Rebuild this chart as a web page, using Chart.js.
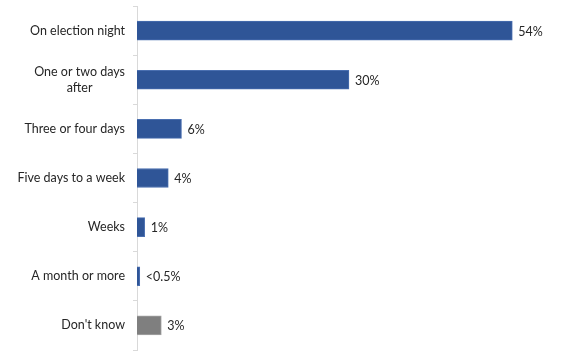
<!DOCTYPE html>
<html lang="en">
<head>
  <meta charset="UTF-8">
  <title>Election results timing</title>
  <script src="https://cdn.jsdelivr.net/npm/chart.js"></script>
  <style>
    body { margin: 0; background: #ffffff; }
    canvas { display: block; }
  </style>
</head>
<body>
  <canvas id="grafico" width="570" height="356"></canvas>

  <script>
    const categorias = [
      ['On election night'],
      ['One or two days', 'after'],
      ['Three or four days'],
      ['Five days to a week'],
      ['Weeks'],
      ['A month or more'],
      ["Don't know"]
    ];
    const valores = [54, 30.5, 6.4, 4.5, 1.1, 0.4, 3.5];
    const rotulos = ['54%', '30%', '6%', '4%', '1%', '<0.5%', '3%'];
    const coresBarra = ['#2F5597', '#2F5597', '#2F5597', '#2F5597', '#2F5597', '#2F5597', '#7F7F7F'];
    const coresBorda = ['#4A6FB0', '#4A6FB0', '#4A6FB0', '#4A6FB0', '#4A6FB0', '#4A6FB0', '#A5A5A5'];

    const fonte = '12.5px Lato';
    const corTexto = '#262626';

    // category labels (centered multi-line like the original) + value labels
    const rotulosPlugin = {
      id: 'rotulos',
      afterDatasetsDraw(chart) {
        const ctx = chart.ctx;
        const y = chart.scales.y;
        ctx.save();
        ctx.font = fonte;
        ctx.fillStyle = corTexto;
        ctx.textBaseline = 'middle';

        categorias.forEach((linhas, i) => {
          const cy = y.getPixelForTick(i);
          const maxW = Math.max(...linhas.map(l => ctx.measureText(l).width));
          const cx = chart.chartArea.left - 12 - maxW / 2;
          const alt = 16;
          ctx.textAlign = 'center';
          linhas.forEach((l, j) => {
            ctx.fillText(l, cx, cy + (j - (linhas.length - 1) / 2) * alt);
          });
        });

        const meta = chart.getDatasetMeta(0);
        ctx.textAlign = 'left';
        meta.data.forEach((bar, i) => {
          ctx.fillText(rotulos[i], bar.x + 6, bar.y + 1);
        });
        ctx.restore();
      }
    };

    new Chart(document.getElementById('grafico'), {
      type: 'bar',
      data: {
        labels: categorias.map(c => c.join(' ')),
        datasets: [{
          data: valores,
          backgroundColor: coresBarra,
          borderColor: coresBorda,
          borderWidth: 1,
          barThickness: 19
        }]
      },
      options: {
        indexAxis: 'y',
        responsive: false,
        animation: false,
        layout: { padding: { top: 6, bottom: 6, right: 16, left: 0 } },
        plugins: {
          legend: { display: false },
          tooltip: { enabled: false }
        },
        scales: {
          x: {
            display: false,
            min: 0,
            max: 60
          },
          y: {
            afterFit(scale) { scale.width = 137; },
            ticks: { display: false },
            grid: {
              drawOnChartArea: false,
              drawTicks: true,
              tickLength: 4,
              color: '#D9D9D9'
            },
            border: { color: '#D9D9D9', width: 1 }
          }
        }
      },
      plugins: [rotulosPlugin]
    });
  </script>
</body>
</html>
